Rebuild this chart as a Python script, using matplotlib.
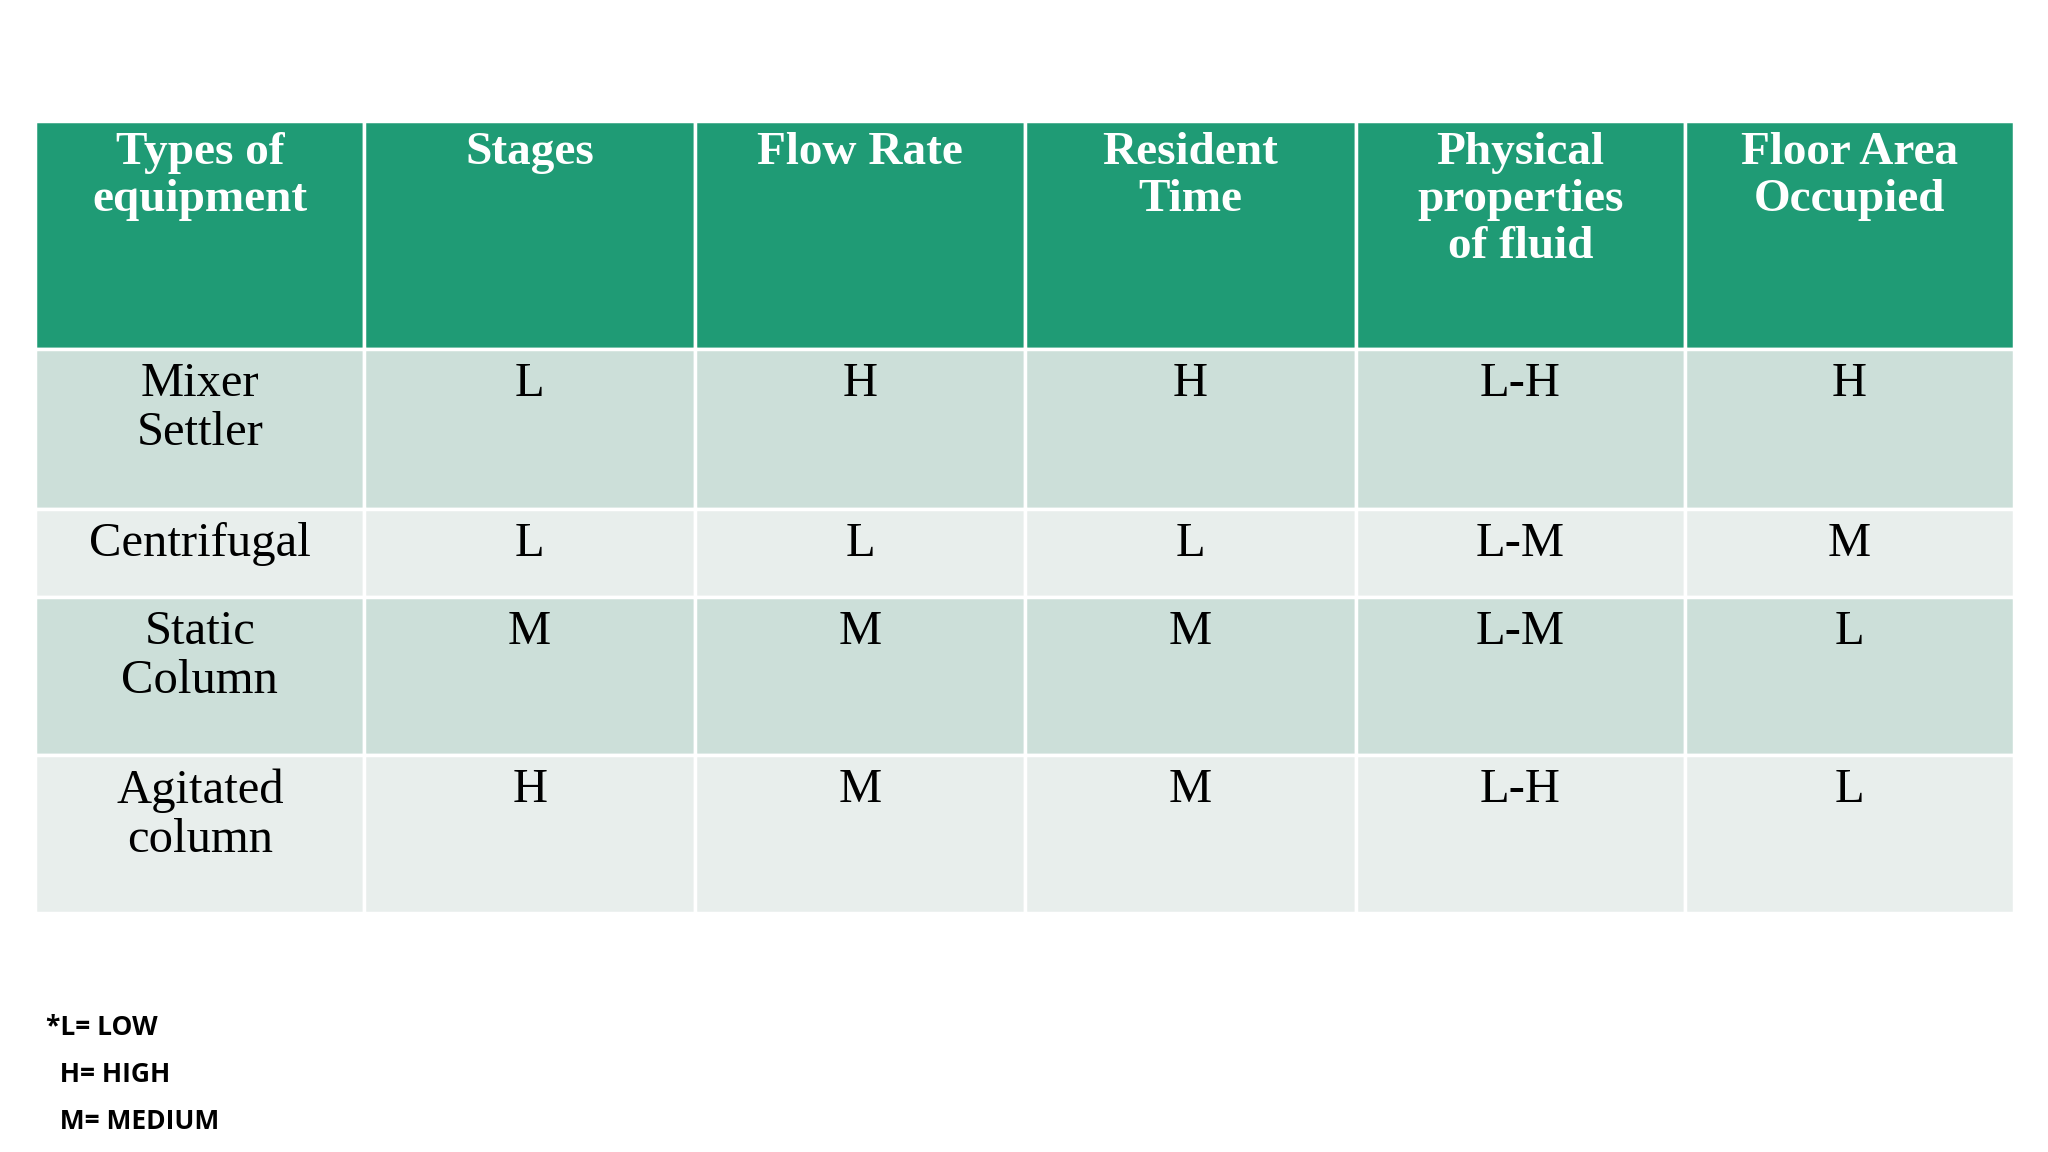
import matplotlib.pyplot as plt
from matplotlib.patches import Rectangle

headers = ["Types of\nequipment", "Stages", "Flow Rate", "Resident\nTime",
           "Physical\nproperties\nof fluid", "Floor Area\nOccupied"]
equipment = ["Mixer\nSettler", "Centrifugal", "Static\nColumn", "Agitated\ncolumn"]
stages = ["L", "L", "M", "H"]
flow_rate = ["H", "L", "M", "M"]
resident_time = ["H", "L", "M", "M"]
physical = ["L-H", "L-M", "L-M", "L-H"]
floor_area = ["H", "M", "L", "L"]
legend_lines = ["*L= LOW", "  H= HIGH", "  M= MEDIUM"]

# layout in reference pixel units (1568 x 882)
W, H = 1568, 882
col_edges = [27, 279, 532, 785, 1038, 1290, 1542]
row_edges = [93, 267, 390, 457, 578, 699]
header_color = "#1F9B75"
row_colors = ["#CCDFD9", "#E8EEEC"]

fig = plt.figure(figsize=(20.48, 11.52), dpi=100)
ax = fig.add_axes([0, 0, 1, 1])
ax.set_xlim(0, W)
ax.set_ylim(H, 0)
ax.axis("off")

columns = [equipment, stages, flow_rate, resident_time, physical, floor_area]
for r in range(len(row_edges) - 1):
    y0, y1 = row_edges[r], row_edges[r + 1]
    color = header_color if r == 0 else row_colors[(r - 1) % 2]
    for c in range(len(col_edges) - 1):
        x0, x1 = col_edges[c], col_edges[c + 1]
        ax.add_patch(Rectangle((x0, y0), x1 - x0, y1 - y0, facecolor=color,
                               edgecolor="white", linewidth=2.5))
        if r == 0:
            ax.text((x0 + x1) / 2, y0 + 8, headers[c], ha="center", va="top",
                    fontsize=34, fontweight="bold", color="white",
                    family="Liberation Serif", linespacing=1.15)
        else:
            ax.text((x0 + x1) / 2, y0 + 10, columns[c][r - 1], ha="center", va="top",
                    fontsize=35, color="black", family="Liberation Serif",
                    linespacing=1.15)

for i, line in enumerate(legend_lines):
    ax.text(35, 787 + 36 * i, line, ha="left", va="center", fontsize=19,
            fontweight="bold", family="Open Sans")

fig.savefig("out.png", dpi=100, facecolor="white")
